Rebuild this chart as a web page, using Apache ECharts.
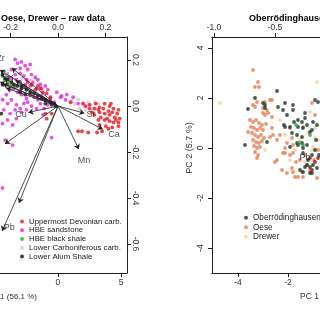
<!DOCTYPE html>
<html lang="en">
<head>
<meta charset="UTF-8">
<title>PCA biplots</title>
<script src="https://cdn.jsdelivr.net/npm/echarts@6.0.0/dist/echarts.min.js"></script>
<style>
  html, body { margin: 0; padding: 0; background: #fff; }
</style>
</head>
<body>
<div id="main" style="width: 320px; height: 320px"></div>
<script type="text/javascript">

// ---- left panel: scores (PC1, PC2) ----
const devonianCarb = [
  [2.9,-0.2],[3.2,-0.3],[3.3,-0.5],[3.6,-0.2],[3.7,-0.6],[4.0,-0.4],[4.1,-0.7],[4.3,-0.5],
  [4.5,-0.9],[4.7,-0.6],[3.4,-0.9],[3.7,-1.1],[3.9,-1.0],[4.1,-1.2],[4.4,-1.3],[4.6,-1.1],
  [4.8,-1.3],[3.2,-1.1],[2.9,-0.7],[3.3,-1.5],[3.8,-1.6],[4.3,-1.7],[3.0,0.2],[3.7,0.2],
  [4.1,0.0],[4.4,-0.2],[4.8,-0.3],[2.7,-0.5],[2.5,-0.2],[2.2,0.0],[4.0,-1.8],[3.5,-2.0],
  [3.1,-2.1],[2.4,-2.1],[1.9,-2.0],[1.6,-2.0],[4.8,-1.6],[4.9,-1.0],[4.2,0.2],
  [-2.1,1.7],[-1.4,1.4],[-1.2,1.1],[-0.9,1.0],[-1.8,1.3],[-2.6,1.5],[-0.6,0.7],[1.0,0.3],
  [2.0,0.2],[2.5,0.1],[3.3,-0.1],[-0.9,-1.0],[-0.5,-0.6],[-1.0,-0.6],[-2.4,1.9],[-1.6,1.6]
];
const hbeSandstone = [
  [-3.4,3.7],[-3.2,3.4],[-2.9,3.5],[-3.0,3.0],[-2.6,3.2],[-2.4,2.9],[-2.2,3.3],[-3.7,2.9],
  [-3.4,2.5],[-3.0,2.6],[-2.7,2.4],[-2.5,2.1],[-2.1,2.5],[-1.8,2.3],[-2.0,1.9],[-1.6,2.1],
  [-1.4,1.7],[-1.3,1.4],[-1.0,1.6],[-0.8,1.3],[-1.7,1.4],[-2.2,1.6],[-2.6,1.7],[-3.0,1.9],
  [-3.3,2.1],[-3.7,2.2],[-4.0,1.7],[-3.8,1.3],[-3.5,1.4],[-3.2,1.1],[-2.9,0.9],[-2.5,0.6],
  [-2.2,0.9],[-1.9,0.7],[-1.6,0.5],[-1.3,0.8],[-1.0,0.5],[-0.6,0.6],[-0.3,0.3],[-0.8,0.1],
  [-1.1,-0.2],[-1.4,0.2],[-4.1,0.9],[-4.4,0.5],[-4.0,0.2],[-3.7,0.5],[-3.3,0.1],[-3.0,-0.2],
  [-2.7,0.2],[-2.4,0.3],[-2.1,0.0],[-1.7,-0.2],[-4.3,-0.3],[-3.8,-0.6],[-3.4,-0.3],[-4.0,-1.1],
  [-4.4,-1.4],[-3.6,-1.5],[-3.3,-1.0],[-2.9,-0.5],[-2.5,-0.3],[-4.2,-2.7],[-3.6,-3.1],[-4.4,-6.5],
  [-0.5,-2.5],[-1.2,-0.7],[-0.1,1.1],[0.3,0.8],[0.7,0.9],[1.2,0.7],[1.6,0.2],[0.2,0.7],[0.6,0.5]
];
const hbeBlackShale = [[-4.2,2.1],[-4.0,1.8],[-3.7,1.7],[-3.4,1.6],[-4.4,2.4]];
const lowerCarbCarb = [
  [-2.2,2.1],[-1.6,2.1],[-1.4,1.8],[-1.8,2.2],[-2.0,1.7],[1.9,0.2],[2.1,0.0],[2.4,0.3],
  [2.6,0.1],[1.7,-0.2],[2.2,-0.3],[2.9,0.3],[1.6,0.5],[1.3,0.2],[1.1,0.4],[3.2,0.2],
  [2.7,-0.2],[-2.5,2.1],[-2.9,2.2]
];
const lowerAlumShale = [
  [-4.4,2.5],[-4.2,2.2],[-4.0,2.1],[-3.7,1.9],[-3.5,1.7],[-3.2,1.6],[-2.9,1.4],[-2.5,1.3],
  [-2.2,1.1],[-1.9,1.0],[-1.6,0.8],[-1.3,0.6],[-1.0,0.5],[-0.6,0.3],[-0.3,0.2],[-4.5,-0.6],
  [-3.0,1.1],[-2.6,0.9],[-1.0,0.2],[-0.5,0.1],[-0.2,0.0],[-4.4,1.7]
];

// loadings (text position; arrows go to 0.8 x loading, as in R biplot)
const loadNames = ['Zr','Si','Ti','Al','K','Rb','Th','Cr','Cu','Sr','Ca','Mn','Fe','Pb','Zn'];
const loadX = [-0.243,-0.224,-0.203,-0.285,-0.290,-0.306,-0.306,-0.274,-0.156,0.139,0.236,0.110,-0.280,-0.206,-0.295];
const loadY = [0.207,0.139,0.117,0.152,0.120,0.196,0.130,0.098,-0.035,-0.039,-0.126,-0.235,-0.206,-0.527,-0.679];

// ---- right panel: scores ----
const oese = [
  [-3.4,3.12],[-3.2,2.64],[-3.32,2.44],[-3.16,2.44],[-3.4,1.72],[-3.32,1.64],[-3.24,1.84],[-2.92,1.32],
  [-2.8,1.4],[-3.0,1.4],[-2.84,1.52],[-2.64,1.24],[-2.64,1.92],[-3.52,1.12],[-3.4,1.04],[-3.28,1.12],
  [-3.16,1.0],[-3.04,0.92],[-3.48,0.84],[-3.36,0.8],[-3.24,0.72],[-3.12,0.8],[-3.0,0.72],[-3.44,0.6],
  [-3.32,0.52],[-3.2,0.44],[-3.08,0.52],[-2.96,0.4],[-3.4,0.32],[-3.28,0.24],[-3.16,0.2],[-3.04,0.28],
  [-3.36,0.08],[-3.24,0.0],[-3.12,0.04],[-3.32,-0.16],[-3.2,-0.28],[-3.24,-0.4],[-2.88,0.96],[-3.6,0.64],
  [-2.72,0.44],[-2.52,-0.56],[-2.24,-0.88],[-2.04,-1.0],[-1.72,-1.16],[-1.6,-1.16],[-1.84,-0.8],[-2.04,0.2],
  [-2.2,-0.2],[-2.44,0.32],[-1.24,-0.68],[-1.44,-0.96],[-1.8,-0.96],[-0.84,-1.2],[-2.44,-0.48],[-2.12,-0.2],
  [-1.92,-0.28],[-1.4,-1.16],[-3.0,1.6],[-2.6,0.52],[-2.64,0.8],[-2.32,0.52],[-2.12,0.0],[-1.84,0.4],
  [-1.8,0.12],[-1.8,-0.2],[-2.72,1.92],[-2.92,1.84],[-1.92,0.8],[-1.4,0.84],[-0.92,1.32],[-1.04,1.8],
  [-1.52,-0.48],[-1.12,-0.88],[-1.68,-0.56],[-1.32,-0.28],[-0.96,-0.48],[-0.8,-0.08]
];
const oberroed = [
  [-2.44,2.28],[-2.2,1.52],[-1.8,1.72],[-1.8,1.52],[-2.04,1.32],[-1.6,1.12],[-1.92,0.84],[-1.44,1.04],
  [-1.32,1.2],[-1.4,0.8],[-1.24,0.92],[-1.12,0.64],[-1.0,1.04],[-2.12,0.84],[-1.64,0.52],[-1.44,0.2],
  [-1.6,0.12],[-1.24,0.12],[-0.92,1.92],[-1.04,-0.28],[-1.4,-0.2],[-1.2,-0.48],[-1.0,-0.68],[-1.24,-0.68],
  [-1.4,-0.96],[-1.52,-0.88],[-1.12,-1.0],[-0.84,-0.8],[-3.0,1.8],[-2.12,1.8],[-2.4,1.64],[-3.6,1.56],
  [-3.32,2.0],[-2.92,1.72],[-1.76,1.04],[-1.32,1.4],[-1.6,0.84],[-2.16,0.92],[-1.04,0.72],[-0.84,0.92],
  [-0.8,1.84],[-3.72,0.12],[-2.92,1.6],[-1.84,0.6],[-1.92,0.04],[-1.44,0.44],[-1.64,0.2],[-1.12,-0.76],
  [-2.84,0.24],[-1.4,0.0],[-1.32,-0.76],[-1.04,-1.0],[-0.88,0.32],[-0.76,-0.28],[-0.92,-0.08]
];
const drewer = [
  [-4.72,1.8],[-0.84,2.64],[-1.52,0.32],[-1.2,0.6],[-0.92,0.8],[-1.72,-0.08],[-1.04,-0.08],[-0.8,0.32],
  [-1.92,-0.48],[-1.32,-0.56],[-2.12,0.52],[-1.12,1.44],[-0.92,0.4],[-1.0,0.04],[-2.32,1.12],[-2.92,-0.08]
];
const otherGreen = [[-1.56,0.2],[-1.4,0.12],[-1.12,0.52],[-1.68,0.92]];
const otherRed = [[-1.12,-0.4],[-0.92,-0.56],[-0.8,-0.4],[-1.04,-0.88]];
const rightLabels = [['Pb', -1.32, -0.4]];

// tick labels
const leftBottomTicks = [0, 5];
const leftTopTicks = [-0.2, 0.0, 0.2];
const leftRightTicks = [0.2, 0.0, -0.2, -0.4, -0.6];
const rightBottomTicks = [-4, -2];
const rightTopTicks = [-1.0, -0.5];
const rightLeftTicks = [-4, -2, 0, 2, 4];

const FONT = 'Liberation Sans';
const INK = '#222';

function axisOf(grid, pos, min, max, ticks, opts) {
  opts = opts || {};
  return {
    type: 'value', gridIndex: grid, position: pos, min: min, max: max,
    show: opts.show !== false,
    axisLine: { show: true, onZero: false, lineStyle: { color: INK, width: 1 } },
    axisTick: { show: true, length: 4, customValues: ticks, lineStyle: { color: INK } },
    axisLabel: {
      customValues: ticks, fontFamily: FONT, fontSize: 8.5, color: '#333',
      margin: opts.margin || 5, rotate: opts.rotate || 0,
      formatter: opts.fmt || (v => String(v))
    },
    splitLine: { show: false }
  };
}
const fmt1 = v => v.toFixed(1);

let myChart = echarts.init(document.getElementById('main'));

function dots(name, data, color, xi, yi) {
  return {
    name: name, type: 'scatter', xAxisIndex: xi, yAxisIndex: yi, data: data,
    symbolSize: 3.8, itemStyle: { color: color }, silent: true
  };
}

let options = {
  animation: false,
  grid: [
    { left: 0, right: 193, top: 37, bottom: 47 },
    { left: 212, right: 0, top: 37, bottom: 47 }
  ],
  xAxis: [
    axisOf(0, 'bottom', -4.6, 5.476, leftBottomTicks),
    axisOf(0, 'top', -0.2447, 0.2911, leftTopTicks, { fmt: fmt1 }),
    axisOf(1, 'bottom', -5.04, -0.72, rightBottomTicks),
    axisOf(1, 'top', -1.016, -0.131, rightTopTicks, { fmt: fmt1 })
  ],
  yAxis: [
    axisOf(0, 'left', -13.25, 5.48, [], { show: false }),
    axisOf(0, 'right', -0.726, 0.3, leftRightTicks, { fmt: fmt1, rotate: -90, margin: 4 }),
    axisOf(1, 'left', -5, 4.44, rightLeftTicks, { rotate: 90, margin: 7 })
  ],
  legend: [
    {
      data: ['Uppermost Devonian carb.', 'HBE sandstone', 'HBE black shale',
             'Lower Carboniferous carb.', 'Lower Alum Shale'],
      orient: 'vertical', left: 20, top: 217, padding: 0, itemGap: 0,
      icon: 'circle', itemWidth: 4, itemHeight: 4, selectedMode: false,
      textStyle: { fontFamily: FONT, fontSize: 7.8, lineHeight: 8.8, color: INK }
    },
    {
      data: ['Oberrödinghausen', 'Oese', 'Drewer'],
      orient: 'vertical', left: 244, top: 213, padding: 0, itemGap: 0,
      icon: 'circle', itemWidth: 4, itemHeight: 4, selectedMode: false,
      textStyle: { fontFamily: FONT, fontSize: 8.2, lineHeight: 9.5, color: INK }
    }
  ],
  graphic: [
    { type: 'text', left: 1, top: 14, style: { text: 'Oese, Drewer – raw data', font: 'bold 9px ' + FONT, fill: '#000' } },
    { type: 'text', left: 249, top: 14, style: { text: 'Oberrödinghausen, Oese, Drewer', font: 'bold 9px ' + FONT, fill: '#000' } },
    { type: 'text', x: 37, y: 297, style: { text: 'PC 1 (56.1 %)', font: '8px ' + FONT, fill: '#333', align: 'right', verticalAlign: 'middle' } },
    { type: 'text', x: 300, y: 297, style: { text: 'PC 1', font: '8.5px ' + FONT, fill: '#333', align: 'left', verticalAlign: 'middle' } },
    { type: 'text', x: 190, y: 148, rotation: Math.PI / 2, style: { text: 'PC 2 (5.7 %)', font: '9px ' + FONT, fill: '#333', align: 'center', verticalAlign: 'middle' } }
  ],
  series: [
    dots('Lower Carboniferous carb.', lowerCarbCarb, '#dcc3d6', 0, 0),
    dots('HBE sandstone', hbeSandstone, '#df28df', 0, 0),
    dots('Uppermost Devonian carb.', devonianCarb, '#e8141a', 0, 0),
    dots('HBE black shale', hbeBlackShale, '#27a52b', 0, 0),
    dots('Lower Alum Shale', lowerAlumShale, '#111111', 0, 0),
    {
      type: 'lines', coordinateSystem: 'cartesian2d', xAxisIndex: 1, yAxisIndex: 1,
      symbol: ['none', 'arrow'], symbolSize: 5, silent: true, z: 5,
      lineStyle: { color: INK, width: 0.8, opacity: 1 },
      data: loadNames.map((n, i) => ({ coords: [[0, 0], [loadX[i] * 0.8, loadY[i] * 0.8]] }))
    },
    {
      type: 'scatter', xAxisIndex: 1, yAxisIndex: 1, symbolSize: 0, silent: true, z: 6,
      data: loadNames.map((n, i) => ({ name: n, value: [loadX[i], loadY[i]] })),
      label: { show: true, position: 'inside', formatter: p => p.name, fontFamily: FONT, fontSize: 9, color: INK }
    },
    dots('Oese', oese, '#e97b4f', 2, 2),
    dots('Drewer', drewer, '#f1cf9f', 2, 2),
    dots('Oberrödinghausen', oberroed, '#1b3328', 2, 2),
    dots('other green', otherGreen, '#2e9e3e', 2, 2),
    dots('other red', otherRed, '#8b1414', 2, 2),
    {
      type: 'scatter', xAxisIndex: 2, yAxisIndex: 2, symbolSize: 0, silent: true, z: 6,
      data: rightLabels.map(r => ({ name: r[0], value: [r[1], r[2]] })),
      label: { show: true, position: 'inside', formatter: p => p.name, fontFamily: FONT, fontSize: 9, color: INK }
    }
  ]
};

myChart.setOption(options);
</script>
</body>
</html>
